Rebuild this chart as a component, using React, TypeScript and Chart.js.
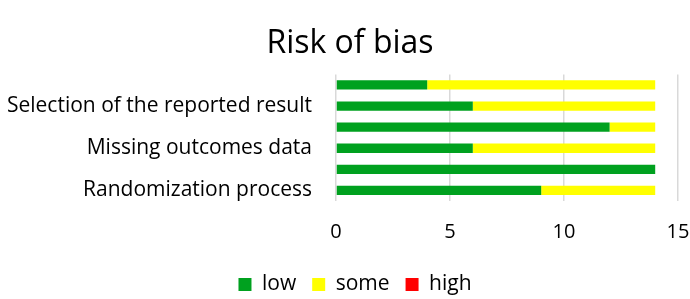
import React, { useEffect, useRef } from "react";
import { Chart, registerables } from "chart.js";

Chart.register(...registerables);

// Categories from bottom to top
const categories = [
  "Randomization process",
  "Deviations from intended interventions",
  "Missing outcomes data",
  "Measurement of the outcome",
  "Selection of the reported result",
  "Overall",
];
const lowValues = [9, 14, 6, 12, 6, 4];
const someValues = [5, 0, 8, 2, 8, 10];
const highValues = [0, 0, 0, 0, 0, 0];
const xTicks = [0, 5, 10, 15];

const FONT = "'Open Sans', sans-serif";

// Nudge title and legend to the right to match the reference's centring
const nudgePlugin = {
  id: "nudge",
  afterLayout(chart: any) {
    if (chart.titleBlock) {
      chart.titleBlock.left += 6;
      chart.titleBlock.right += 6;
    }
    if (chart.legend) {
      chart.legend.left += 11;
      chart.legend.right += 11;
    }
  },
};

export default function App() {
  const ref = useRef<HTMLCanvasElement | null>(null);

  useEffect(() => {
    if (!ref.current) return;
    const chart = new Chart(ref.current, {
      type: "bar",
      data: {
        labels: categories,
        datasets: [
          { label: "low", data: lowValues, backgroundColor: "#00a11f" },
          { label: "some", data: someValues, backgroundColor: "#ffff00" },
          { label: "high", data: highValues, backgroundColor: "#ff0000" },
        ],
      },
      options: {
        indexAxis: "y",
        animation: false,
        responsive: false,
        maintainAspectRatio: false,
        layout: { padding: { left: 0, right: 2, top: 0, bottom: -6 } },
        datasets: {
          bar: { categoryPercentage: 1, barPercentage: 0.44 },
        },
        plugins: {
          title: {
            display: true,
            text: "Risk of bias",
            color: "#000",
            font: { family: FONT, size: 32, weight: "normal" },
            padding: { top: 25, bottom: 11 },
          },
          legend: {
            position: "bottom",
            labels: {
              color: "#000",
              font: { family: FONT, size: 21 },
              boxWidth: 13,
              boxHeight: 13,
              padding: 16,
            },
          },
          tooltip: { enabled: false },
        },
        scales: {
          x: {
            stacked: true,
            min: 0,
            max: 15,
            afterBuildTicks: (s: any) => {
              s.ticks = xTicks.map((v) => ({ value: v }));
            },
            ticks: {
              color: "#000",
              font: { family: FONT, size: 20 },
              padding: 19,
            },
            grid: { color: "#d9d9d9", lineWidth: 1.5, drawTicks: false },
            border: { display: false },
            afterFit: (s: any) => {
              s.height = 57;
              s.paddingRight = 12;
            },
          },
          y: {
            stacked: true,
            reverse: true,
            ticks: {
              color: "#000",
              font: { family: FONT, size: 21 },
              padding: 24,
              autoSkip: false,
              callback: (_v: any, i: number) => (i % 2 === 0 ? categories[i] : ""),
            },
            grid: { display: false, drawTicks: false },
            border: { display: false },
            afterFit: (s: any) => {
              s.width = 336;
            },
          },
        },
      },
      plugins: [nudgePlugin],
    });
    return () => chart.destroy();
  }, []);

  return (
    <div style={{ position: "fixed", left: 0, top: 0, width: 690, height: 299, background: "#fff" }}>
      <canvas ref={ref} width={690} height={299} style={{ display: "block" }} />
    </div>
  );
}
